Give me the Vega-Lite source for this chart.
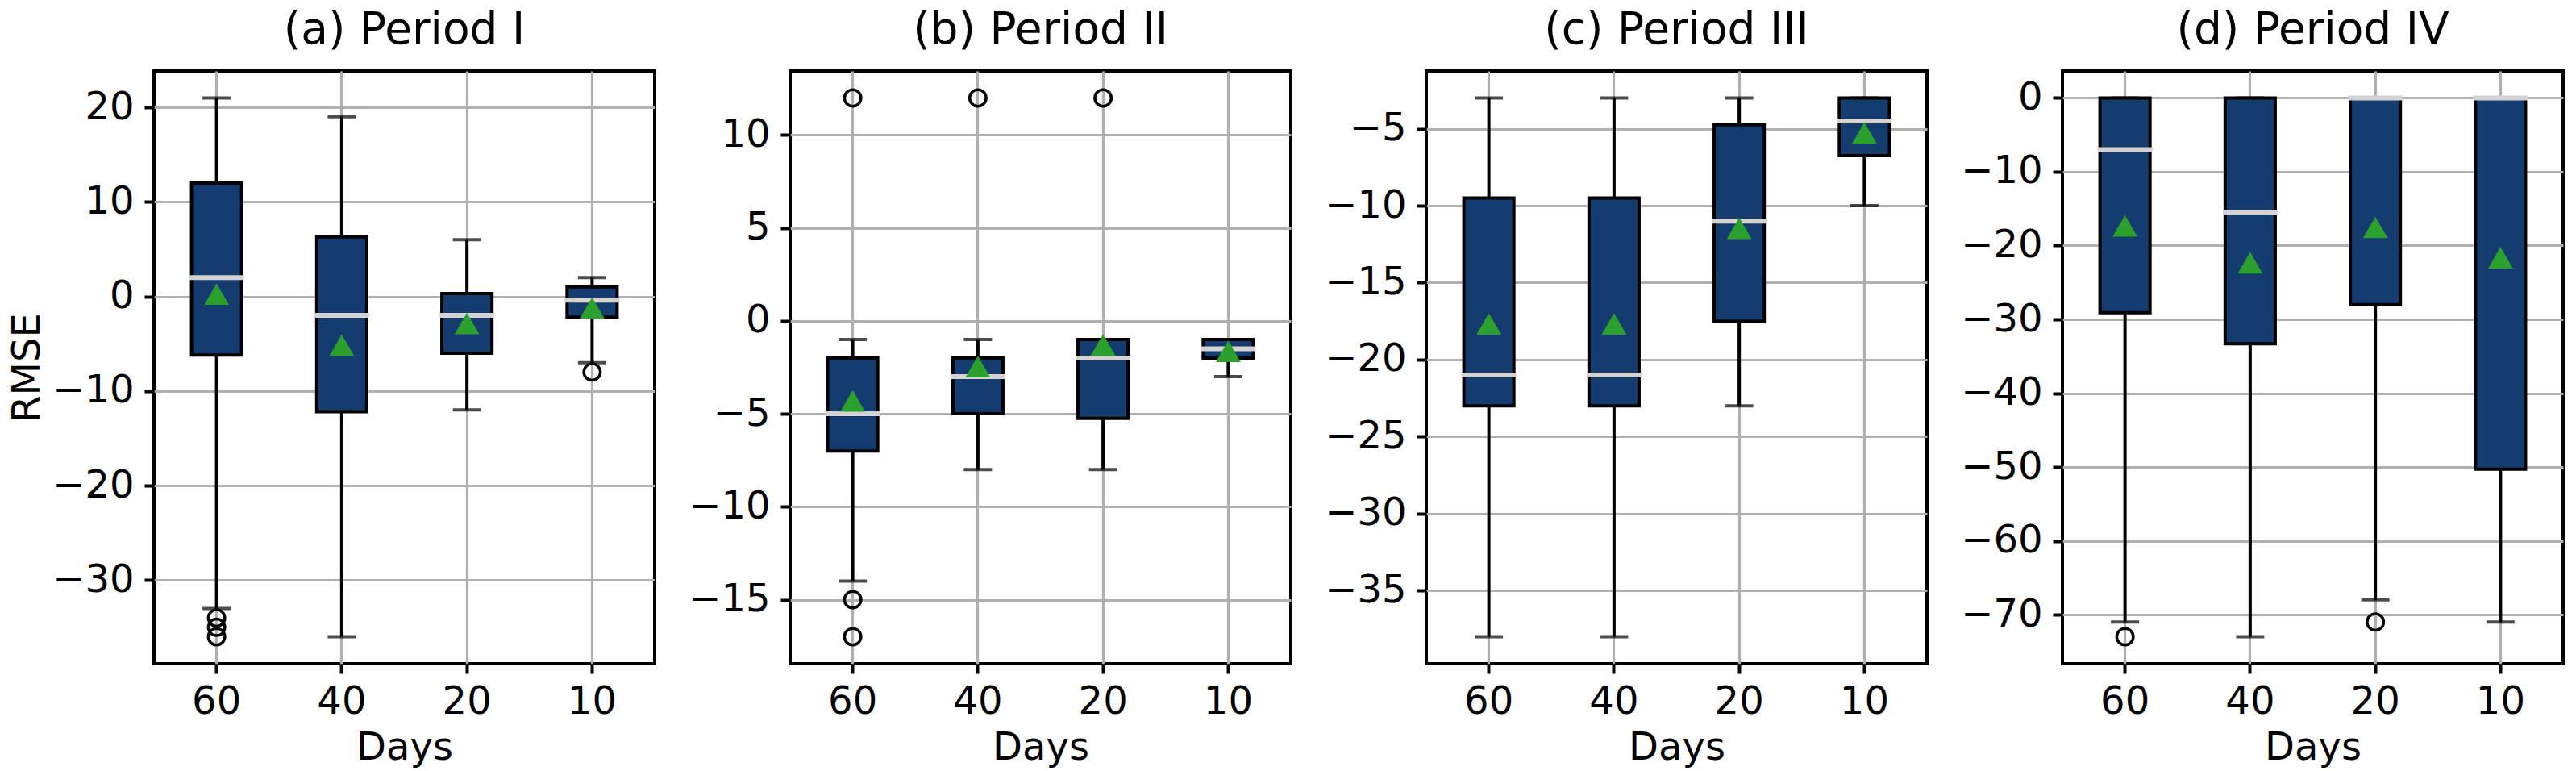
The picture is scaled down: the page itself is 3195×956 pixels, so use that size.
{
  "$schema": "https://vega.github.io/schema/vega-lite/v6.json",
  "padding": {"left": 8, "top": 8, "right": 5, "bottom": 0},
  "background": "white",
  "datasets": {
    "boxes": [
      {"period": "a", "days": "60", "lo": -33, "q1": -6.2, "med": 2, "q3": 12, "hi": 21, "mean": 0.2},
      {"period": "a", "days": "40", "lo": -36, "q1": -12.2, "med": -2, "q3": 6.3, "hi": 19, "mean": -5.2},
      {"period": "a", "days": "20", "lo": -12, "q1": -6, "med": -2, "q3": 0.3, "hi": 6, "mean": -2.9},
      {"period": "a", "days": "10", "lo": -7, "q1": -2.2, "med": -0.4, "q3": 1, "hi": 2, "mean": -1.25},
      {"period": "b", "days": "60", "lo": -14, "q1": -7, "med": -5, "q3": -2, "hi": -1, "mean": -4.33},
      {"period": "b", "days": "40", "lo": -8, "q1": -5, "med": -3, "q3": -2, "hi": -1, "mean": -2.48},
      {"period": "b", "days": "20", "lo": -8, "q1": -5.25, "med": -2, "q3": -1, "hi": -1, "mean": -1.32},
      {"period": "b", "days": "10", "lo": -3, "q1": -2, "med": -1.5, "q3": -1, "hi": -1, "mean": -1.66},
      {"period": "c", "days": "60", "lo": -38, "q1": -23, "med": -21, "q3": -9.5, "hi": -3, "mean": -17.7},
      {"period": "c", "days": "40", "lo": -38, "q1": -23, "med": -21, "q3": -9.5, "hi": -3, "mean": -17.7},
      {"period": "c", "days": "20", "lo": -23, "q1": -17.5, "med": -11, "q3": -4.75, "hi": -3, "mean": -11.5},
      {"period": "c", "days": "10", "lo": -10, "q1": -6.75, "med": -4.5, "q3": -3, "hi": -3, "mean": -5.3},
      {"period": "d", "days": "60", "lo": -71, "q1": -29.1, "med": -7, "q3": 0, "hi": 0, "mean": -17.4},
      {"period": "d", "days": "40", "lo": -73, "q1": -33.3, "med": -15.5, "q3": 0, "hi": 0, "mean": -22.4},
      {"period": "d", "days": "20", "lo": -68, "q1": -28, "med": 0, "q3": 0, "hi": 0, "mean": -17.6},
      {"period": "d", "days": "10", "lo": -71, "q1": -50.3, "med": 0, "q3": 0, "hi": 0, "mean": -21.7}
    ],
    "outliers": [
      {"period": "a", "days": "60", "value": -34},
      {"period": "a", "days": "60", "value": -35},
      {"period": "a", "days": "60", "value": -36},
      {"period": "a", "days": "10", "value": -8},
      {"period": "b", "days": "60", "value": 12},
      {"period": "b", "days": "60", "value": -15},
      {"period": "b", "days": "60", "value": -17},
      {"period": "b", "days": "40", "value": 12},
      {"period": "b", "days": "20", "value": 12},
      {"period": "d", "days": "60", "value": -73},
      {"period": "d", "days": "20", "value": -71}
    ]
  },
  "config": {
    "font": "DejaVu Sans",
    "view": {"stroke": "black", "strokeWidth": 4},
    "axis": {
      "labelFont": "DejaVu Sans", "labelFontSize": 48, "labelColor": "black",
      "titleFont": "DejaVu Sans", "titleFontSize": 48, "titleFontWeight": "normal", "titleColor": "black",
      "tickColor": "black", "tickSize": 12, "tickWidth": 4, "domain": false,
      "grid": true, "gridColor": "#b0b0b0", "gridWidth": 3.2, "labelPadding": 13
    },
    "axisX": {"titlePadding": 9, "labelPadding": 11, "labelAngle": 0},
    "axisY": {"labelPadding": 13, "titlePadding": 6},
    "title": {"font": "DejaVu Sans", "fontSize": 55, "fontWeight": "normal", "color": "black", "anchor": "middle", "baseline": "alphabetic", "offset": 22}
  },
  "bounds": "flush",
  "spacing": 168,
  "hconcat": [
    {
      "width": 621, "height": 735,
      "title": {"text": "(a) Period I"},
      "encoding": {"x": {"field": "days", "type": "nominal", "sort": ["60", "40", "20", "10"], "scale": {"paddingInner": 0, "paddingOuter": 0}, "axis": {"title": "Days", "bandPosition": 0.5}}},
      "layer": [
        {"data": {"name": "boxes"}, "transform": [{"filter": "datum.period == 'a'"}], "mark": {"type": "rule", "color": "black", "strokeWidth": 4}, "encoding": {"y": {"field": "lo", "type": "quantitative", "title": "RMSE", "scale": {"domain": [-38.85, 23.85], "nice": false, "zero": false}, "axis": {"values": [-30, -20, -10, 0, 10, 20]}}, "y2": {"field": "hi"}}},
        {"data": {"name": "boxes"}, "transform": [{"filter": "datum.period == 'a'"}, {"fold": ["lo", "hi"], "as": ["k", "v"]}], "mark": {"type": "tick", "color": "black", "thickness": 4, "size": 35}, "encoding": {"y": {"field": "v", "type": "quantitative", "title": "RMSE"}}},
        {"data": {"name": "boxes"}, "transform": [{"filter": "datum.period == 'a'"}], "mark": {"type": "bar", "width": {"band": 0.4}, "fill": "#143c6f", "stroke": "black", "strokeWidth": 4}, "encoding": {"y": {"field": "q1", "type": "quantitative", "title": "RMSE"}, "y2": {"field": "q3"}}},
        {"data": {"name": "boxes"}, "transform": [{"filter": "datum.period == 'a'"}], "mark": {"type": "tick", "color": "#d3d3d3", "thickness": 6, "size": 68, "opacity": 1}, "encoding": {"y": {"field": "med", "type": "quantitative", "title": "RMSE"}}},
        {"data": {"name": "boxes"}, "transform": [{"filter": "datum.period == 'a'"}], "mark": {"type": "point", "shape": "triangle-up", "filled": true, "color": "#2ca02c", "stroke": "#2ca02c", "strokeWidth": 2, "size": 750, "opacity": 1}, "encoding": {"y": {"field": "mean", "type": "quantitative", "title": "RMSE"}}},
        {"data": {"name": "outliers"}, "transform": [{"filter": "datum.period == 'a'"}], "mark": {"type": "point", "shape": "circle", "filled": false, "color": "black", "strokeWidth": 3.5, "size": 420, "opacity": 1}, "encoding": {"y": {"field": "value", "type": "quantitative", "title": "RMSE"}}}
      ]
    },
    {
      "width": 621, "height": 735,
      "title": {"text": "(b) Period II"},
      "encoding": {"x": {"field": "days", "type": "nominal", "sort": ["60", "40", "20", "10"], "scale": {"paddingInner": 0, "paddingOuter": 0}, "axis": {"title": "Days", "bandPosition": 0.5}}},
      "layer": [
        {"data": {"name": "boxes"}, "transform": [{"filter": "datum.period == 'b'"}], "mark": {"type": "rule", "color": "black", "strokeWidth": 4}, "encoding": {"y": {"field": "lo", "type": "quantitative", "title": null, "scale": {"domain": [-18.45, 13.45], "nice": false, "zero": false}, "axis": {"values": [-15, -10, -5, 0, 5, 10]}}, "y2": {"field": "hi"}}},
        {"data": {"name": "boxes"}, "transform": [{"filter": "datum.period == 'b'"}, {"fold": ["lo", "hi"], "as": ["k", "v"]}], "mark": {"type": "tick", "color": "black", "thickness": 4, "size": 35}, "encoding": {"y": {"field": "v", "type": "quantitative", "title": null}}},
        {"data": {"name": "boxes"}, "transform": [{"filter": "datum.period == 'b'"}], "mark": {"type": "bar", "width": {"band": 0.4}, "fill": "#143c6f", "stroke": "black", "strokeWidth": 4}, "encoding": {"y": {"field": "q1", "type": "quantitative", "title": null}, "y2": {"field": "q3"}}},
        {"data": {"name": "boxes"}, "transform": [{"filter": "datum.period == 'b'"}], "mark": {"type": "tick", "color": "#d3d3d3", "thickness": 6, "size": 68, "opacity": 1}, "encoding": {"y": {"field": "med", "type": "quantitative", "title": null}}},
        {"data": {"name": "boxes"}, "transform": [{"filter": "datum.period == 'b'"}], "mark": {"type": "point", "shape": "triangle-up", "filled": true, "color": "#2ca02c", "stroke": "#2ca02c", "strokeWidth": 2, "size": 750, "opacity": 1}, "encoding": {"y": {"field": "mean", "type": "quantitative", "title": null}}},
        {"data": {"name": "outliers"}, "transform": [{"filter": "datum.period == 'b'"}], "mark": {"type": "point", "shape": "circle", "filled": false, "color": "black", "strokeWidth": 3.5, "size": 420, "opacity": 1}, "encoding": {"y": {"field": "value", "type": "quantitative", "title": null}}}
      ]
    },
    {
      "width": 621, "height": 735,
      "title": {"text": "(c) Period III"},
      "encoding": {"x": {"field": "days", "type": "nominal", "sort": ["60", "40", "20", "10"], "scale": {"paddingInner": 0, "paddingOuter": 0}, "axis": {"title": "Days", "bandPosition": 0.5}}},
      "layer": [
        {"data": {"name": "boxes"}, "transform": [{"filter": "datum.period == 'c'"}], "mark": {"type": "rule", "color": "black", "strokeWidth": 4}, "encoding": {"y": {"field": "lo", "type": "quantitative", "title": null, "scale": {"domain": [-39.75, -1.25], "nice": false, "zero": false}, "axis": {"values": [-35, -30, -25, -20, -15, -10, -5]}}, "y2": {"field": "hi"}}},
        {"data": {"name": "boxes"}, "transform": [{"filter": "datum.period == 'c'"}, {"fold": ["lo", "hi"], "as": ["k", "v"]}], "mark": {"type": "tick", "color": "black", "thickness": 4, "size": 35}, "encoding": {"y": {"field": "v", "type": "quantitative", "title": null}}},
        {"data": {"name": "boxes"}, "transform": [{"filter": "datum.period == 'c'"}], "mark": {"type": "bar", "width": {"band": 0.4}, "fill": "#143c6f", "stroke": "black", "strokeWidth": 4}, "encoding": {"y": {"field": "q1", "type": "quantitative", "title": null}, "y2": {"field": "q3"}}},
        {"data": {"name": "boxes"}, "transform": [{"filter": "datum.period == 'c'"}], "mark": {"type": "tick", "color": "#d3d3d3", "thickness": 6, "size": 68, "opacity": 1}, "encoding": {"y": {"field": "med", "type": "quantitative", "title": null}}},
        {"data": {"name": "boxes"}, "transform": [{"filter": "datum.period == 'c'"}], "mark": {"type": "point", "shape": "triangle-up", "filled": true, "color": "#2ca02c", "stroke": "#2ca02c", "strokeWidth": 2, "size": 750, "opacity": 1}, "encoding": {"y": {"field": "mean", "type": "quantitative", "title": null}}}
      ]
    },
    {
      "width": 621, "height": 735,
      "title": {"text": "(d) Period IV"},
      "encoding": {"x": {"field": "days", "type": "nominal", "sort": ["60", "40", "20", "10"], "scale": {"paddingInner": 0, "paddingOuter": 0}, "axis": {"title": "Days", "bandPosition": 0.5}}},
      "layer": [
        {"data": {"name": "boxes"}, "transform": [{"filter": "datum.period == 'd'"}], "mark": {"type": "rule", "color": "black", "strokeWidth": 4}, "encoding": {"y": {"field": "lo", "type": "quantitative", "title": null, "scale": {"domain": [-76.65, 3.65], "nice": false, "zero": false}, "axis": {"values": [-70, -60, -50, -40, -30, -20, -10, 0]}}, "y2": {"field": "hi"}}},
        {"data": {"name": "boxes"}, "transform": [{"filter": "datum.period == 'd'"}, {"fold": ["lo", "hi"], "as": ["k", "v"]}], "mark": {"type": "tick", "color": "black", "thickness": 4, "size": 35}, "encoding": {"y": {"field": "v", "type": "quantitative", "title": null}}},
        {"data": {"name": "boxes"}, "transform": [{"filter": "datum.period == 'd'"}], "mark": {"type": "bar", "width": {"band": 0.4}, "fill": "#143c6f", "stroke": "black", "strokeWidth": 4}, "encoding": {"y": {"field": "q1", "type": "quantitative", "title": null}, "y2": {"field": "q3"}}},
        {"data": {"name": "boxes"}, "transform": [{"filter": "datum.period == 'd'"}], "mark": {"type": "tick", "color": "#d3d3d3", "thickness": 6, "size": 68, "opacity": 1}, "encoding": {"y": {"field": "med", "type": "quantitative", "title": null}}},
        {"data": {"name": "boxes"}, "transform": [{"filter": "datum.period == 'd'"}], "mark": {"type": "point", "shape": "triangle-up", "filled": true, "color": "#2ca02c", "stroke": "#2ca02c", "strokeWidth": 2, "size": 750, "opacity": 1}, "encoding": {"y": {"field": "mean", "type": "quantitative", "title": null}}},
        {"data": {"name": "outliers"}, "transform": [{"filter": "datum.period == 'd'"}], "mark": {"type": "point", "shape": "circle", "filled": false, "color": "black", "strokeWidth": 3.5, "size": 420, "opacity": 1}, "encoding": {"y": {"field": "value", "type": "quantitative", "title": null}}}
      ]
    }
  ]
}
